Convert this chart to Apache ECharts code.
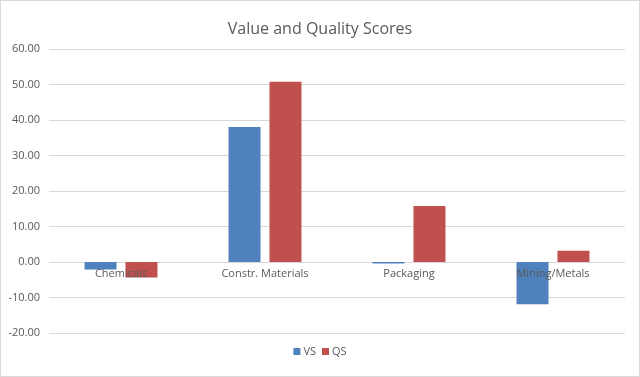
<!DOCTYPE html>
<html>
<head>
<meta charset="utf-8">
<script src="https://cdn.jsdelivr.net/npm/echarts@6/dist/echarts.min.js"></script>
<style>
  html, body { margin: 0; padding: 0; background: #fff; }
  #main { width: 638px; height: 375px; border: 1px solid #d9d9d9; }
</style>
</head>
<body>
<div id="main"></div>
<script>
// sector scores
var sectors = ['Chemicals', 'Constr. Materials', 'Packaging', 'Mining/Metals'];
var vsScores = [-2.1, 38.0, -0.4, -11.9];
var qsScores = [-4.4, 50.8, 15.8, 3.2];
var yTicks = { min: -20, max: 60, step: 10 };

var chart = echarts.init(document.getElementById('main'));
var option = {
  animation: false,
  title: {
    text: 'Value and Quality Scores',
    left: 'center',
    top: 15,
    textStyle: { fontFamily: 'Open Sans', fontWeight: 'normal', fontSize: 16, color: '#595959' }
  },
  legend: {
    data: ['VS', 'QS'],
    bottom: 14,
    left: 'center',
    itemWidth: 7,
    itemHeight: 7,
    itemGap: 6,
    icon: 'rect',
    textStyle: { fontFamily: 'Open Sans', fontSize: 11, color: '#595959', padding: [0, 0, 0, -2] }
  },
  grid: { left: 48, right: 14, top: 48, bottom: 43 },
  xAxis: {
    type: 'category',
    data: sectors,
    offset: -71.5,
    z: 10,
    axisTick: { show: false },
    axisLine: { show: false },
    axisLabel: { fontFamily: 'Open Sans', fontSize: 11, color: '#595959', margin: 7 }
  },
  yAxis: {
    type: 'value',
    min: yTicks.min,
    max: yTicks.max,
    interval: yTicks.step,
    axisLine: { show: false },
    axisTick: { show: false },
    axisLabel: {
      fontFamily: 'Open Sans', fontSize: 11, color: '#595959', margin: 9,
      formatter: function (v) { return v.toFixed(2); }
    },
    splitLine: { lineStyle: { color: '#d9d9d9' } }
  },
  series: [
    {
      name: 'VS',
      type: 'bar',
      data: vsScores,
      barWidth: 32,
      barGap: '28%',
      itemStyle: { color: '#4F81BD' }
    },
    {
      name: 'QS',
      type: 'bar',
      data: qsScores,
      barWidth: 32,
      itemStyle: { color: '#C0504D' }
    }
  ]
};
chart.setOption(option);
</script>
</body>
</html>
